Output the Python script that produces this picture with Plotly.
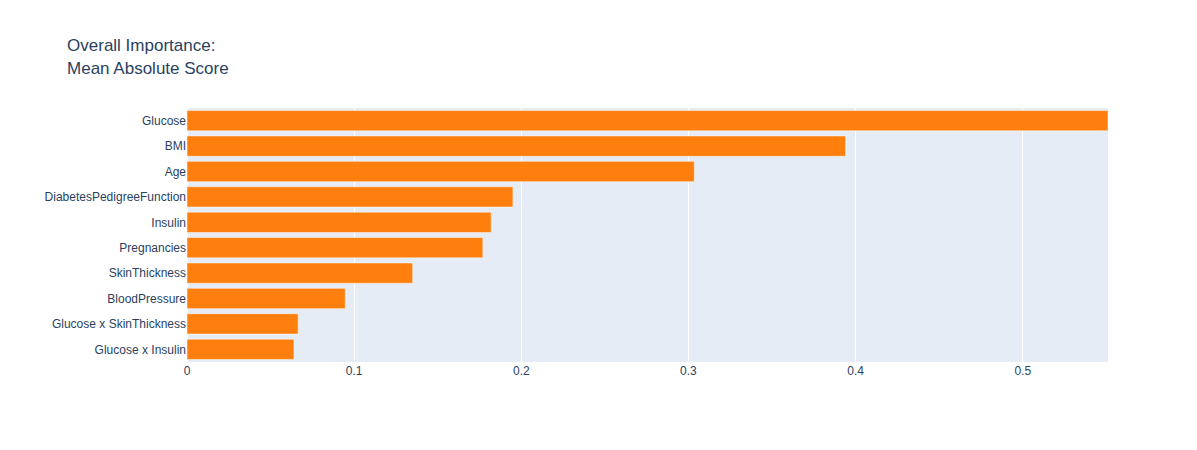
import plotly.graph_objects as go

features = ["Glucose", "BMI", "Age", "DiabetesPedigreeFunction", "Insulin", "Pregnancies",
            "SkinThickness", "BloodPressure", "Glucose x SkinThickness", "Glucose x Insulin"]
scores = [0.551, 0.394, 0.3035, 0.195, 0.182, 0.177, 0.135, 0.0947, 0.0665, 0.064]

fig = go.Figure(go.Bar(x=scores, y=features, orientation="h",
                       marker=dict(color="#ff7f0e", line=dict(color="white", width=0.5))))
fig.update_layout(
    template="plotly",
    font=dict(family="Liberation Sans, Arial, sans-serif"),
    title=dict(text="Overall Importance:<br>Mean Absolute Score", x=0.05, y=0.9,
               font=dict(size=17)),
    margin=dict(l=179, r=81, t=100, b=80),
    bargap=0.2,
    yaxis=dict(autorange="reversed"),
    xaxis=dict(range=[0, 0.551]),
    showlegend=False,
)
fig.write_html("out.html", default_width="100%", default_height="100%")
